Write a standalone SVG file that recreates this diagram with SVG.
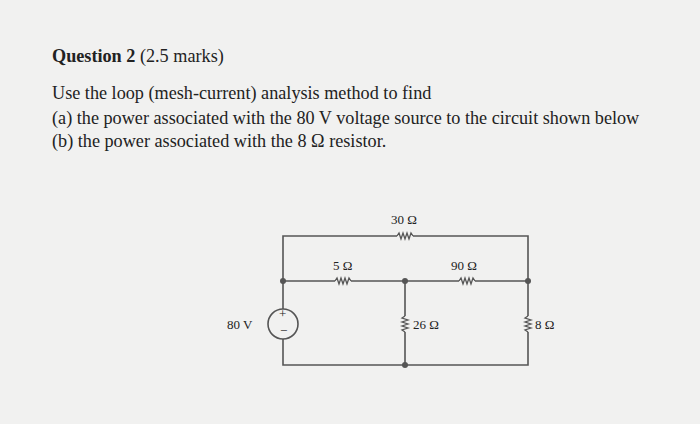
<svg xmlns="http://www.w3.org/2000/svg" width="700" height="424" viewBox="0 0 700 424">
<style>
text{font-family:"Liberation Serif",serif;fill:#222}
.t{font-size:18.2px}
.l{font-size:13px}
.w{stroke:#555;stroke-width:1.6;fill:none}
.r{stroke:#555;stroke-width:1.3;fill:none}
</style>
<rect width="700" height="424" fill="#f1f1f0"/>
<text class="t" x="52" y="62"><tspan font-weight="bold">Question 2</tspan> (2.5 marks)</text>
<text class="t" x="52" y="99">Use the loop (mesh-current) analysis method to find</text>
<text class="t" x="52" y="124">(a) the power associated with the 80 V voltage source to the circuit shown below</text>
<text class="t" x="52" y="147">(b) the power associated with the 8 Ω resistor.</text>
<g id="connectors">
<path class="w" d="M283,309 V236 H397 M413,236 H528 V316 M528,332 V365 H283 V339"/>
<path class="w" d="M283,281 H335 M351,281 H459 M475,281 H528"/>
<path class="w" d="M405,281 V316 M405,332 V365"/>
</g>
<g id="r30"><path class="r" d="M397,236 l2,-3 2,6 2,-6 2,6 2,-6 2,6 2,-6 2,3"/><text class="l" x="391" y="224">30 Ω</text></g>
<g id="r5"><path class="r" d="M335,281 l2,-3 2,6 2,-6 2,6 2,-6 2,6 2,-6 2,3"/><text class="l" x="333" y="270">5 Ω</text></g>
<g id="r90"><path class="r" d="M459,281 l2,-3 2,6 2,-6 2,6 2,-6 2,6 2,-6 2,3"/><text class="l" x="451" y="270">90 Ω</text></g>
<g id="r26"><path class="r" d="M405,316 l-3,2 6,2 -6,2 6,2 -6,2 6,2 -6,2 3,2"/><text class="l" x="413" y="329">26 Ω</text></g>
<g id="r8"><path class="r" d="M528,316 l-3,2 6,2 -6,2 6,2 -6,2 6,2 -6,2 3,2"/><text class="l" x="535" y="329">8 Ω</text></g>
<g id="src"><circle cx="283" cy="324" r="15" class="w" fill="#f1f1f0"/><text class="l" x="279" y="318" font-size="10">+</text><text class="l" x="280" y="335" font-size="10">−</text><text class="l" x="227" y="329">80 V</text></g>
<g id="nodes" fill="#555"><circle cx="283" cy="281" r="3"/><circle cx="405" cy="281" r="3"/><circle cx="528" cy="281" r="3"/><circle cx="405" cy="365" r="3"/></g>
</svg>
